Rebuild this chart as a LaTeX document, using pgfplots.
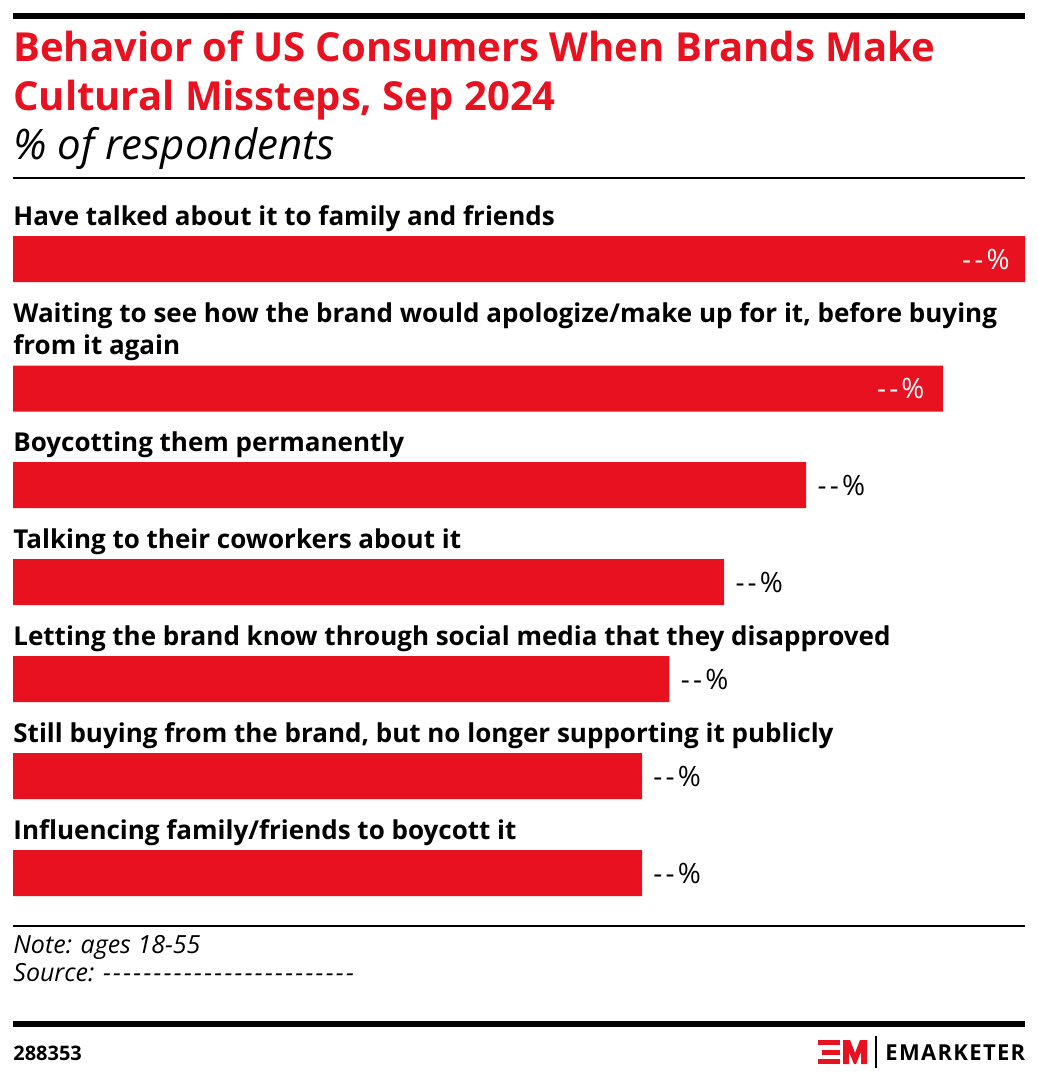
\documentclass[border=0pt]{standalone}
\usepackage{fontspec}
\setmainfont{Open Sans}
\usepackage{pgfplots}
\pgfplotsset{compat=1.18}
\definecolor{emred}{RGB}{232,17,32}
\newcommand\hy{\mbox{-}}
\newcommand\val{\hy\hspace{1.6pt}\hy\hspace{1.6pt}\%}
\newcommand\hs{\hy\hspace{1.15pt}}
\begin{document}
\begin{tikzpicture}[x=0.5pt,y=-0.5pt]
\path[use as bounding box] (0,0) rectangle (1038,1082);
\fill[black] (13,13) rectangle (1025,19);
\node[anchor=base west, inner sep=0, text=emred, font=\fontsize{20}{24}\selectfont\bfseries] at (13,61) {Behavior of US Consumers When Brands Make};
\node[anchor=base west, inner sep=0, text=emred, font=\fontsize{20}{24}\selectfont\bfseries] at (13,110) {Cultural Missteps, Sep 2024};
\node[anchor=base west, inner sep=0, font=\fontsize{21}{24}\selectfont\itshape] at (13,159) {\% of respondents};
\draw[line width=0.9pt] (13,178) -- (1025,178);
\begin{axis}[at={(6.5pt,-455pt)}, anchor=south west, scale only axis, width=506pt, height=345pt,
  xmin=0, xmax=37, ymin=220, ymax=910, y dir=reverse, hide axis, clip=false,
  xtick=\empty, ytick=\empty]
\addplot[xbar, fill=emred, draw=none, bar width=46] coordinates {(37,259) (34,388.5) (29,485) (26,582) (24,679) (23,776) (23,873)};
\tikzset{lab/.style={anchor=base west, inner sep=0, font=\fontsize{13}{15}\selectfont\bfseries}}
\node[lab] at (axis cs:0,225) {Have talked about it to family and friends};
\node[lab] at (axis cs:0,322) {Waiting to see how the brand would apologize/make up for it, before buying};
\node[lab] at (axis cs:0,354) {from it again};
\node[lab] at (axis cs:0,451) {Boycotting them permanently};
\node[lab] at (axis cs:0,548) {Talking to their coworkers about it};
\node[lab] at (axis cs:0,645) {Letting the brand know through social media that they disapproved};
\node[lab] at (axis cs:0,742) {Still buying from the brand, but no longer supporting it publicly};
\node[lab] at (axis cs:0,839) {Influencing family/friends to boycott it};
\tikzset{vl/.style={inner sep=0, font=\fontsize{14}{16}\selectfont}}
\node[vl, anchor=east, text=white, xshift=-7.5pt] at (axis cs:37,259) {\val};
\node[vl, anchor=east, text=white, xshift=-9pt] at (axis cs:34,388.5) {\val};
\node[vl, anchor=west, xshift=5.5pt] at (axis cs:29,485) {\val};
\node[vl, anchor=west, xshift=5.5pt] at (axis cs:26,582) {\val};
\node[vl, anchor=west, xshift=5.5pt] at (axis cs:24,679) {\val};
\node[vl, anchor=west, xshift=5.5pt] at (axis cs:23,776) {\val};
\node[vl, anchor=west, xshift=5.5pt] at (axis cs:23,873) {\val};
\end{axis}
\draw[line width=0.9pt] (13,926) -- (1025,926);
\node[anchor=base west, inner sep=0, font=\fontsize{12.5}{15}\selectfont\itshape] at (13,953) {Note: ages 18\hy55};
\node[anchor=base west, inner sep=0, font=\fontsize{12.5}{15}\selectfont\itshape] at (13,981) {Source: \hs\hs\hs\hs\hs\hs\hs\hs\hs\hs\hs\hs\hs\hs\hs\hs\hs\hs\hs\hs\hs\hs\hs\hs\hy};
\fill[black] (13,1021) rectangle (1025,1027);
\node[anchor=base west, inner sep=0, font=\fontsize{10}{11}\selectfont\bfseries] at (13,1060) {288353};
% logo
\fill[emred] (818,1040) rectangle (840,1045);
\fill[emred] (822,1050) rectangle (840,1055);
\fill[emred] (818,1059) rectangle (840,1064);
\fill[emred] (843,1064) -- (843,1040) -- (850,1040) -- (855,1053) -- (860,1040) -- (867,1040) -- (867,1064) -- (861,1064) -- (861,1052) -- (856,1064) -- (854,1064) -- (849,1052) -- (849,1064) -- cycle;
\draw[line width=0.8pt] (876,1036) -- (876,1068);
\node[anchor=base west, inner sep=0, font=\fontsize{11}{13}\selectfont\bfseries\addfontfeature{LetterSpace=6}] at (885,1060) {EMARKETER};
\end{tikzpicture}
\end{document}
